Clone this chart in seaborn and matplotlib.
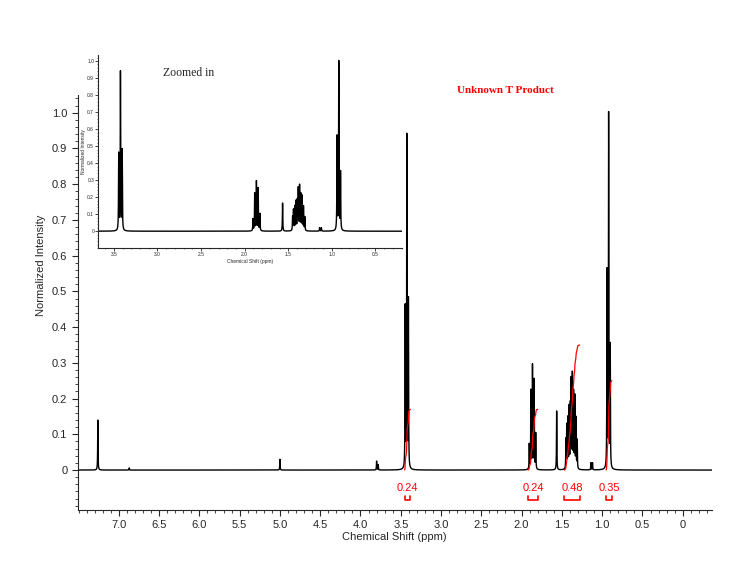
import numpy as np
import pandas as pd
import matplotlib
matplotlib.use("Agg")
import matplotlib.pyplot as plt
from matplotlib.ticker import MultipleLocator, FixedLocator
import seaborn as sns

sns.set_style("ticks")
plt.rcParams['font.family'] = ['Liberation Sans', 'DejaVu Sans']

# Peak list (ppm, normalized height)
peak_ppm = [7.26, 6.87, 5.00, 3.80, 3.78, 3.445, 3.425, 3.405,
            1.905, 1.885, 1.865, 1.845, 1.825, 1.565,
            1.45, 1.44, 1.425, 1.41, 1.395, 1.385, 1.37, 1.355, 1.34, 1.325, 1.31,
            1.14, 1.12, 0.94, 0.92, 0.90]
peak_height = [0.14, 0.006, 0.03, 0.025, 0.015, 0.45, 0.93, 0.47,
               0.07, 0.22, 0.29, 0.25, 0.10, 0.165,
               0.08, 0.12, 0.14, 0.17, 0.17, 0.24, 0.26, 0.21, 0.20, 0.14, 0.08,
               0.02, 0.02, 0.55, 0.99, 0.34]
# Integration regions (start ppm, end ppm), labels, and curve end heights
int_start = [3.45, 1.92, 1.47, 0.95]
int_end = [3.38, 1.80, 1.28, 0.88]
int_label = ["0.24", "0.24", "0.48", "0.35"]
int_top = [0.17, 0.17, 0.35, 0.25]

hw = 0.0025
x = np.linspace(7.6, -0.4, 40000)
y = np.zeros_like(x)
for p, h in zip(peak_ppm, peak_height):
    y += h / (1 + ((x - p) / hw) ** 2)
df = pd.DataFrame({"ppm": x, "I": y})

fig = plt.figure(figsize=(7.33, 5.68), dpi=100)
ax = fig.add_axes([0.106, 0.102, 0.865, 0.863])
sns.lineplot(data=df, x="ppm", y="I", ax=ax, color="black", lw=1.0,
             estimator=None, sort=False)
ax.set_xlim(7.51, -0.36)
ax.set_ylim(-0.112, 1.26)
ax.xaxis.set_minor_locator(MultipleLocator(0.1))
ax.set_xticks([7.0, 6.5, 6.0, 5.5, 5.0, 4.5, 4.0, 3.5, 3.0, 2.5, 2.0, 1.5, 1.0, 0.5, 0])
ax.set_xticklabels(["7.0", "6.5", "6.0", "5.5", "5.0", "4.5", "4.0", "3.5", "3.0",
                    "2.5", "2.0", "1.5", "1.0", "0.5", "0"])
ax.set_yticks(np.arange(0, 1.01, 0.1))
ax.set_yticklabels(["0"] + [f"{v:.1f}" for v in np.arange(0.1, 1.01, 0.1)])
ax.yaxis.set_minor_locator(FixedLocator(np.arange(-0.1, 1.045, 0.02)))
ax.tick_params(labelsize=8, length=4, width=0.8)
ax.tick_params(which="minor", length=2.5, width=0.6)
for s in ["top", "right"]:
    ax.spines[s].set_visible(False)
ax.spines["left"].set_bounds(-0.112, 1.05)
ax.set_xlabel("Chemical Shift (ppm)", fontsize=8, labelpad=1)
ax.set_ylabel("Normalized Intensity", fontsize=8)

# Integrations
for a, b, lab, top in zip(int_start, int_end, int_label, int_top):
    m = (x <= a) & (x >= b)
    c = np.cumsum(y[m])
    c = c / c[-1] * top
    ax.plot(x[m], c, color="red", lw=0.9)
    ax.plot([a, a, b, b], [-0.072, -0.085, -0.085, -0.072], color="red", lw=1.2)
    ax.text((a + b) / 2, -0.05, lab, color="red", ha="center", va="center", fontsize=8)

fig.text(0.689, 0.840, "Unknown T Product", color="red", fontweight="bold",
         family=["Liberation Serif"], fontsize=8, ha="center", va="center")

# Inset
ins = fig.add_axes([0.134, 0.563, 0.415, 0.340])
ins.set_facecolor("white")
sub = df[(df.ppm <= 3.7) & (df.ppm >= 0.18)]
sns.lineplot(data=sub, x="ppm", y="I", ax=ins, color="black", lw=1.0,
             estimator=None, sort=False)
ins.set_xlim(3.68, 0.19)
ins.set_ylim(-0.1, 1.035)
ins.set_xticks([3.5, 3.0, 2.5, 2.0, 1.5, 1.0, 0.5])
ins.set_xticklabels(["3.5", "3.0", "2.5", "2.0", "1.5", "1.0", "0.5"])
ins.xaxis.set_minor_locator(MultipleLocator(0.1))
ins.set_yticks(np.arange(0, 1.01, 0.1))
ins.set_yticklabels(["0"] + [f"{v:.1f}" for v in np.arange(0.1, 1.01, 0.1)])
ins.yaxis.set_minor_locator(FixedLocator(np.arange(-0.1, 1.03, 0.02)))
ins.tick_params(labelsize=3.5, length=2, width=0.6, pad=1)
ins.tick_params(which="minor", length=1, width=0.4)
for s in ["top", "right"]:
    ins.spines[s].set_visible(False)
ins.set_xlabel("Chemical Shift (ppm)", fontsize=3.5, labelpad=1)
ins.set_ylabel("Normalized Intensity", fontsize=3.5, labelpad=1)
fig.text(0.222, 0.871, "Zoomed in", family=["Liberation Serif"], fontsize=8.5,
         ha="left", va="center")

fig.savefig("out.png", dpi=100)
